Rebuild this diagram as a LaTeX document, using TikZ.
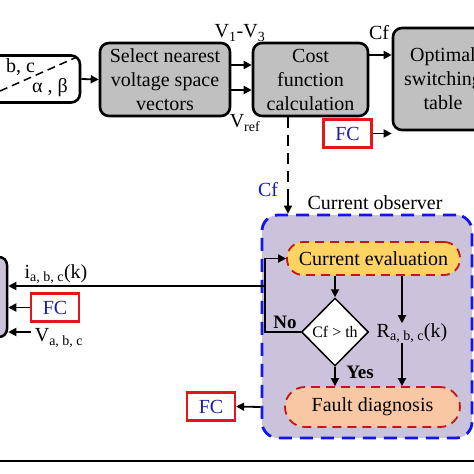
\documentclass[tikz,border=0pt]{standalone}
\usepackage{fontspec}
\setmainfont{Liberation Serif}
\usetikzlibrary{arrows.meta,shapes.geometric,calc}
\definecolor{boxgray}{HTML}{C0C0C0}
\definecolor{lav}{HTML}{CBC3DC}
\definecolor{obsblue}{HTML}{1414F0}
\definecolor{dred}{HTML}{C01818}
\definecolor{ceyel}{HTML}{FDD462}
\definecolor{fdpeach}{HTML}{F8C8A4}
\definecolor{fcred}{HTML}{E8141C}
\definecolor{fcblue}{HTML}{1E1EA8}
\newcommand{\sbs}[1]{\textsubscript{#1}}
\begin{document}
\begin{tikzpicture}[x=1pt,y=-1pt,
  every node/.style={font=\fontsize{20}{24}\selectfont},
  graybox/.style={draw, line width=2.6pt, fill=boxgray, rounded corners=9pt, align=center, inner sep=0pt},
  fcbox/.style={draw=fcred, line width=2.3pt, fill=white, text=fcblue, inner sep=0pt, minimum width=48pt, minimum height=28pt},
  arr/.style={line width=1.8pt, -{Triangle[length=8pt,width=8pt]}},
  pill/.style={draw=dred, line width=1.8pt, dash pattern=on 9pt off 6pt, align=center, inner sep=0pt},
  lbl/.style={inner sep=0pt}
]
\useasboundingbox (0,0) rectangle (474,474);
\clip (0,0) rectangle (474,474);

% coordinates used for connector heights / columns
\coordinate (yA) at (0,65);
\coordinate (yB) at (0,90);
\coordinate (yCf) at (0,55);
\coordinate (cfx) at (288,0);
\coordinate (cfmid) at (288,193);
\coordinate (fbx) at (265,0);
\coordinate (iy) at (0,286);
\coordinate (rx) at (402,0);
\coordinate (vstart) at (31,332);
\coordinate (dA) at (0,91);
\coordinate (dB) at (77,57);
\coordinate (bl) at (0,461);
\coordinate (br) at (474,461);

% top row
\node[graybox, fill=white, minimum width=120pt, minimum height=47pt] (ab) at (20,79) {};
\draw[line width=1.5pt, dash pattern=on 8pt off 5pt] (dA) -- (dB);
\node[lbl] (abc) at (11,67) {a, b, c};
\node[lbl] (alb) at (50,88) {α , β};

\node[graybox, minimum width=130pt, minimum height=73pt] (sel) at (165,79.5) {Select nearest\\voltage space\\vectors};
\node[graybox, minimum width=115pt, minimum height=73pt] (cost) at (310.5,79.5) {Cost\\function\\calculation};
\node[graybox, minimum width=100pt, minimum height=102pt] (opt) at (443,79) {Optimal\\switching\\table};

\draw[arr] (ab.east) -- (sel.west);
\draw[arr] (sel.east |- yA) -- (cost.west |- yA);
\draw[arr] (sel.east |- yB) -- (cost.west |- yB);
\node[lbl] (v13) at (240,33) {V\sbs{1}-V\sbs{3}};
\node[lbl] (vref) at (245,123) {V\sbs{ref}};
\draw[arr] (cost.east |- yCf) -- (opt.west |- yCf);
\node[lbl] (cf1) at (379,33) {Cf};
\node[fcbox] (fc1) at (347.5,133.5) {FC};
\draw[arr] (fc1.east) -- (opt.west |- fc1.east);

% observer
\node[draw=obsblue, fill=lav, line width=2.8pt, dash pattern=on 13pt off 8pt, rounded corners=16pt, minimum width=210pt, minimum height=223pt, inner sep=0pt] (obs) at (367,326.5) {};
\node[lbl] (obst) at (375,203) {Current observer};
\draw[line width=1.8pt, dash pattern=on 11pt off 7pt] (cost.south -| cfx) -- (cfmid);
\draw[arr] (cfmid) -- (obs.north -| cfx);
\node[lbl, text=obsblue] (cf2) at (268,190) {Cf};

\node[pill, fill=ceyel, minimum width=173pt, minimum height=33pt, rounded corners=16pt] (ce) at (373.5,258.5) {Current evaluation};
\node[pill, fill=fdpeach, minimum width=175pt, minimum height=40pt, rounded corners=20pt] (fd) at (372.5,407) {Fault diagnosis};
\node[draw, fill=white, diamond, line width=1.5pt, minimum width=67pt, minimum height=68pt, inner sep=0pt, font=\fontsize{16}{18}\selectfont] (dia) at (335,332) {Cf > th};
\node[lbl] (rlab) at (412,333) {R\sbs{a, b, c}(k)};

\draw[arr] (ce.south -| dia.north) -- (dia.north);
\draw[arr] (dia.south) -- (fd.north -| dia.south);
\draw[arr] (ce.south -| rx) -- (rlab.north -| rx);
\draw[arr] (rlab.south -| rx) -- (fd.north -| rx);
\draw[arr] (dia.west) -- (fbx |- dia.west) -- (fbx |- ce.west) -- (ce.west);
\node[lbl, font=\fontsize{19}{22}\selectfont\bfseries] (no) at (285,322) {No};
\node[lbl, font=\fontsize{19}{22}\selectfont\bfseries] (yes) at (360,372) {Yes};

% left plant box
\node[draw, fill=lav, line width=2.5pt, rounded corners=8pt, minimum width=47pt, minimum height=80pt, inner sep=0pt] (plant) at (-16.5,297) {};
\draw[arr] (fbx |- iy) -- (plant.east |- iy);
\node[lbl] (ilab) at (56,274) {i\sbs{a, b, c}(k)};
\node[fcbox] (fc2) at (55,307.5) {FC};
\draw[arr] (fc2.west) -- (plant.east |- fc2.west);
\draw[arr] (vstart) -- (plant.east |- vstart);
\node[lbl] (vlab) at (59,338) {V\sbs{a, b, c}};

% bottom FC
\node[fcbox] (fc3) at (211,406.5) {FC};
\draw[arr] (obs.west |- fd.center) -- (fc3.east);

\draw[line width=2.5pt] (bl) -- (br);
\end{tikzpicture}
\end{document}
